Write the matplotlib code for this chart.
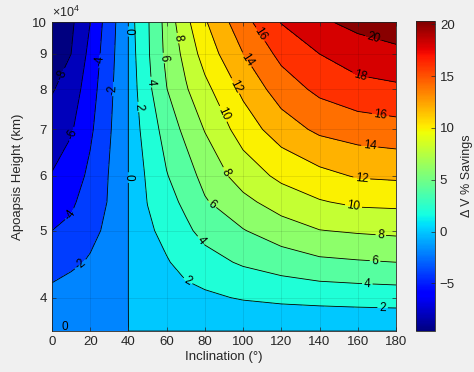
import numpy as np
import matplotlib
matplotlib.use('Agg')
import matplotlib.pyplot as plt
from matplotlib import colors as mcolors
from matplotlib import cm

plt.rcParams['font.family'] = ['Liberation Sans', 'DejaVu Sans']
plt.rcParams['mathtext.default'] = 'regular'

# inclination (deg); 39.9 / 40 straddle the jump along the 0 line
incl = [0, 10, 20, 30, 39.9, 40, 45, 50, 60, 70, 80, 100, 120, 140, 160, 180]
# apoapsis height (km), bottom row is GEO
apo = [35786, 40000, 45000, 50000, 55000, 60000, 70000, 80000, 90000, 100000]

# delta-V savings (%), one column per inclination, bottom -> top
sav_0 = [0, -1.45, -2.81, -4.0, -4.95, -5.9, -7.09, -8.15, -8.88, -9.6]
sav_10 = [0, -1.09, -2.35, -3.53, -4.39, -4.97, -6.22, -7.11, -8.0, -8.37]
sav_20 = [0, -0.83, -1.82, -2.46, -2.92, -3.59, -4.35, -4.9, -5.45, -6.0]
sav_30 = [0, -0.5, -1.1, -1.62, -1.87, -1.9, -2.19, -2.42, -2.65, -2.86]
sav_39 = [0, -0.1, -0.2, -0.3, -0.35, -0.35, -0.35, -0.35, -0.35, -0.35]
sav_40 = [0, 0.15, 0.3, 0.45, 0.55, 0.65, 0.8, 0.95, 1.05, 1.15]
sav_45 = [0, 0.3, 0.6, 0.9, 1.15, 1.4, 1.8, 2.1, 2.3, 2.45]
sav_50 = [0, 0.5, 1.1, 1.65, 2.05, 2.25, 2.75, 3.45, 3.72, 3.78]
sav_60 = [0, 0.8, 1.85, 2.6, 3.3, 3.9, 4.85, 5.95, 6.5, 6.71]
sav_70 = [0, 1.43, 2.64, 3.61, 4.43, 5.13, 6.5, 7.8, 8.6, 9.47]
sav_80 = [0, 1.65, 3.28, 4.64, 5.81, 6.63, 8.1, 9.45, 10.84, 11.78]
sav_100 = [0, 2.17, 4.26, 5.9, 7.48, 8.92, 10.93, 12.46, 13.98, 15.3]
sav_120 = [0, 2.49, 4.98, 7.08, 8.92, 10.46, 13.03, 14.98, 16.54, 18.08]
sav_140 = [0, 2.69, 5.61, 7.95, 9.85, 11.46, 14.41, 16.46, 18.0, 19.68]
sav_160 = [0, 2.84, 5.83, 8.23, 10.41, 12.17, 14.99, 17.32, 19.09, 20.53]
sav_180 = [0, 2.95, 6.0, 8.44, 10.5, 12.34, 15.3, 17.64, 19.5, 21.2]

levels = np.arange(-8, 21, 2)
cbar_lim = (-9.6, 20.3)
ytick_vals = [4e4, 5e4, 6e4, 7e4, 8e4, 9e4, 1e5]
ytick_labels = ['4', '5', '6', '7', '8', '9', '10']
xtick_vals = [0, 20, 40, 60, 80, 100, 120, 140, 160, 180]

# where the inline labels sit (inclination, height)
label_pos = [
	(7.8, 83300), (12, 68700), (11, 52200), (25, 88000), (16, 44300), (32, 80000),
	(39.9, 97000), (39.9, 59600),
	(45, 75400), (70.6, 42000), (173, 38550),
	(51.3, 81900), (76.4, 48000), (165, 41800),
	(57.6, 88700), (82.7, 54100), (169, 45000),
	(65.4, 94800), (88, 60150), (172, 49000),
	(85, 72700), (157.6, 53900),
	(92, 79800), (162, 59300),
	(99.4, 87300), (166, 65100),
	(106, 94800), (171.6, 72700),
	(161, 83000), (167.5, 93600),
]

Z = np.column_stack([sav_0, sav_10, sav_20, sav_30, sav_39, sav_40, sav_45, sav_50,
	sav_60, sav_70, sav_80, sav_100, sav_120, sav_140, sav_160, sav_180])
X, Y = np.meshgrid(incl, apo)

txt_c = '#262626'
fig = plt.figure(figsize=(4.74, 3.72), dpi=100, facecolor='#f0f0f0')
ax = fig.add_axes([0.1097, 0.110, 0.7257, 0.8301])
cax = fig.add_axes([0.8776, 0.110, 0.0401, 0.8333])

ax.set_yscale('log')
ax.set_xlim(0, 180)
ax.set_ylim(35786, 100000)

cmap = plt.get_cmap('jet')
norm = mcolors.Normalize(vmin=cbar_lim[0], vmax=cbar_lim[1])
# matlab style: each band takes the colour of its lower level
zmin, zmax = Z.min(), Z.max()
fill_levels = np.concatenate([[zmin - 0.01], levels, [zmax + 0.01]])
fill_colors = [cmap(norm(zmin))] + [cmap(norm(l)) for l in levels]
ax.contourf(X, Y, Z, levels=fill_levels, colors=fill_colors)
cs = ax.contour(X, Y, Z, levels=levels, colors='k', linewidths=0.6,
	linestyles='solid', negative_linestyles='solid')
ax.clabel(cs, manual=label_pos, inline=True, fmt='%d', fontsize=8.5, inline_spacing=2)
# label of the 0 line that runs along the bottom edge
ax.text(0.038, 0.012, '0', transform=ax.transAxes, ha='center', va='center', fontsize=8.5, color='k')

ax.set_xlim(0, 180)
ax.set_ylim(35786, 100000)
ax.set_xticks(xtick_vals)
ax.set_yticks(ytick_vals)
ax.set_yticklabels(ytick_labels)
ax.yaxis.set_minor_locator(matplotlib.ticker.NullLocator())
ax.grid(True, color='k', alpha=0.12, lw=0.5)
ax.set_axisbelow(False)
ax.tick_params(direction='in', top=True, right=True, length=3, width=0.5, labelsize=9.5, colors=txt_c)
for s in ax.spines.values():
	s.set_color(txt_c)
	s.set_linewidth(0.6)
ax.set_xlabel('Inclination (°)', fontsize=9.5, color=txt_c, labelpad=2)
ax.set_ylabel('Apoapsis Height (km)', fontsize=9.5, color=txt_c, labelpad=6)
ax.text(0, 1.008, '×10$^4$', transform=ax.transAxes, ha='left', va='bottom', fontsize=9, color=txt_c)

sm = cm.ScalarMappable(norm=norm, cmap=cmap)
cb = fig.colorbar(sm, cax=cax)
cb.set_ticks([-5, 0, 5, 10, 15, 20])
cb.ax.tick_params(direction='in', length=3, width=0.5, labelsize=9.5, colors=txt_c)
cb.outline.set_edgecolor(txt_c)
cb.outline.set_linewidth(0.6)
cb.set_label('Δ V % Savings', fontsize=9, color=txt_c, labelpad=4)

fig.savefig('out.png', dpi=100, facecolor=fig.get_facecolor())
